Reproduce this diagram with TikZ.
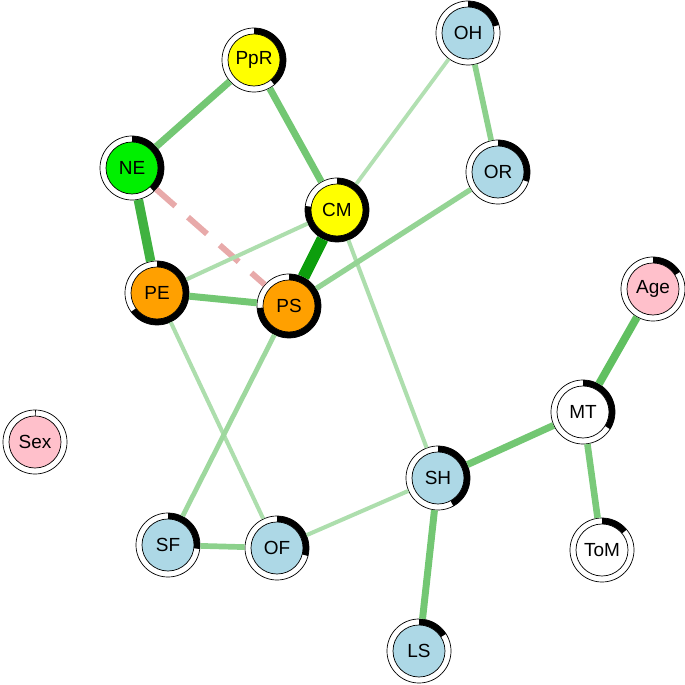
\documentclass[tikz,border=0pt]{standalone}
\usepackage{fontspec}
\setmainfont{Liberation Sans}
\usepackage{xcolor}
\usetikzlibrary{calc}
\definecolor{lblue}{RGB}{173,216,230}
\definecolor{pyellow}{RGB}{255,255,0}
\definecolor{pgreen}{RGB}{0,240,0}
\definecolor{porange}{RGB}{255,160,0}
\definecolor{ppink}{RGB}{255,192,203}
\definecolor{edgegreen}{RGB}{0,153,0}
\definecolor{negred}{RGB}{232,170,170}
\tikzset{outerring/.style={circle, draw=black, line width=0.5pt, fill=white, minimum size=1.6cm, inner sep=0pt}, innerdisc/.style={circle, draw=black, line width=0.5pt, minimum size=1.3cm, inner sep=0pt, font=\fontsize{13.5}{15}\selectfont}, posedge/.style={draw=edgegreen!#1, line width=0.09pt*#1}, negedge/.style={draw=negred, line width=4.2pt, dash pattern=on 18pt off 12pt}}
% name, position, label, fill, share of the ring
\newcommand{\pienode}[5]{%
  \node[outerring] (#1) at (#2) {};
  \fill[black] (#1.center) ++(90:32) arc[start angle=90, delta angle={-360*#5}, radius=32] -- ++({90-360*#5}:-6) arc[start angle={90-360*#5}, delta angle={360*#5}, radius=26] -- cycle;
  \node[innerdisc, fill=#4] (#1-c) at (#2) {#3};
}

\begin{document}
\begin{tikzpicture}[x=0.025cm, y=0.025cm]
\useasboundingbox (0,0) rectangle (685,685);
\pienode{PpR}{254,625}{PpR}{pyellow}{0.39}
\pienode{NE}{132,517}{NE}{pgreen}{0.38}
\pienode{CM}{337,475}{CM}{pyellow}{0.77}
\pienode{PE}{157,392}{PE}{porange}{0.65}
\pienode{PS}{289,379}{PS}{porange}{0.74}
\pienode{OH}{468,652}{OH}{lblue}{0.21}
\pienode{OR}{498,513}{OR}{lblue}{0.30}
\pienode{Age}{653,396}{Age}{ppink}{0.16}
\pienode{MT}{583,273}{MT}{white}{0.34}
\pienode{ToM}{602,135}{ToM}{white}{0.14}
\pienode{Sex}{35,243}{Sex}{ppink}{0.004}
\pienode{SH}{438,207}{SH}{lblue}{0.42}
\pienode{SF}{168,140}{SF}{lblue}{0.27}
\pienode{OF}{277,137}{OF}{lblue}{0.29}
\pienode{LS}{419,34}{LS}{lblue}{0.16}
% edges
\draw[posedge=55] (PpR) -- (NE);
\draw[posedge=55] (PpR) -- (CM);
\draw[posedge=75] (NE) -- (PE);
\draw[negedge] (NE) -- (PS);
\draw[posedge=95] (CM) -- (PS);
\draw[posedge=32] (CM) -- (PE);
\draw[posedge=30] (CM) -- (OH);
\draw[posedge=32] (CM) -- (SH);
\draw[posedge=45] (OH) -- (OR);
\draw[posedge=42] (OR) -- (PS);
\draw[posedge=55] (PE) -- (PS);
\draw[posedge=32] (PE) -- (OF);
\draw[posedge=38] (PS) -- (SF);
\draw[posedge=45] (SF) -- (OF);
\draw[posedge=32] (OF) -- (SH);
\draw[posedge=55] (SH) -- (MT);
\draw[posedge=55] (SH) -- (LS);
\draw[posedge=62] (MT) -- (Age);
\draw[posedge=52] (MT) -- (ToM);
\end{tikzpicture}
\end{document}
